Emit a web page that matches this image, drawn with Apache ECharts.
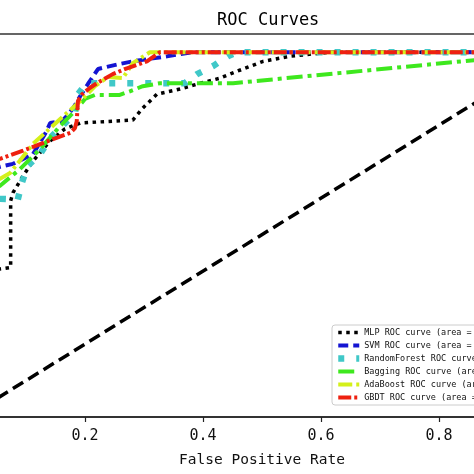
<!DOCTYPE html>
<html>
<head>
<meta charset="utf-8">
<script src="https://cdn.jsdelivr.net/npm/echarts@6/dist/echarts.min.js"></script>
<style>
  html, body { margin: 0; padding: 0; background: #fff; }
  #main { width: 474px; height: 474px; }
</style>
</head>
<body>
<div id="main"></div>
<script>
const xTicks = [0, 0.2, 0.4, 0.6, 0.8, 1.0];

const names = [
  'MLP ROC curve (area = 0.85)',
  'SVM ROC curve (area = 0.91)',
  'RandomForest ROC curve (area = 0.89)',
  'Bagging ROC curve (area = 0.89)',
  'AdaBoost ROC curve (area = 0.90)',
  'GBDT ROC curve (area = 0.91)'
];

// false positive rate / true positive rate
const mlpFpr = [0, 0.03, 0.074, 0.074, 0.078, 0.095, 0.112, 0.141, 0.166, 0.192, 0.281, 0.298, 0.322, 0.361, 0.395, 0.429, 0.458, 0.502, 0.547, 0.615, 1];
const mlpTpr = [0, 0.40, 0.410, 0.593, 0.615, 0.661, 0.702, 0.757, 0.790, 0.806, 0.814, 0.847, 0.885, 0.899, 0.915, 0.929, 0.948, 0.975, 0.989, 1, 1];

const svmFpr = [0, 0.02, 0.056, 0.078, 0.112, 0.134, 0.141, 0.161, 0.169, 0.180, 0.192, 0.205, 0.222, 0.256, 0.281, 0.339, 0.383, 1];
const svmTpr = [0, 0.66, 0.686, 0.694, 0.721, 0.781, 0.806, 0.811, 0.825, 0.847, 0.880, 0.913, 0.954, 0.967, 0.975, 0.989, 1, 1];

const rfFpr = [0, 0.02, 0.056, 0.086, 0.093, 0.103, 0.124, 0.141, 0.183, 0.188, 0.203, 0.369, 0.390, 0.417, 0.442, 0.458, 1];
const rfTpr = [0, 0.58, 0.598, 0.596, 0.642, 0.689, 0.721, 0.765, 0.833, 0.885, 0.915, 0.915, 0.940, 0.962, 0.989, 1, 1];

const bagFpr = [0, 0.02, 0.056, 0.090, 0.124, 0.158, 0.183, 0.200, 0.217, 0.259, 0.276, 0.298, 0.327, 0.451, 1];
const bagTpr = [0, 0.60, 0.634, 0.680, 0.735, 0.798, 0.839, 0.872, 0.883, 0.883, 0.893, 0.907, 0.915, 0.915, 1];

const adaFpr = [0, 0.02, 0.056, 0.073, 0.112, 0.158, 0.192, 0.217, 0.239, 0.264, 0.281, 0.310, 1];
const adaTpr = [0, 0.62, 0.653, 0.669, 0.749, 0.817, 0.866, 0.907, 0.932, 0.929, 0.970, 1, 1];

const gbdtFpr = [0, 0.02, 0.056, 0.095, 0.146, 0.175, 0.183, 0.186, 0.188, 0.195, 0.208, 0.220, 0.247, 0.271, 0.305, 0.327, 1];
const gbdtTpr = [0, 0.69, 0.708, 0.730, 0.762, 0.779, 0.792, 0.811, 0.866, 0.885, 0.902, 0.915, 0.940, 0.956, 0.975, 1, 1];

const chanceFpr = [0, 1];
const chanceTpr = [0, 1];

function pairs(xs, ys) {
  return xs.map((x, i) => [x, ys[i]]);
}

const FONT = '"DejaVu Sans Mono", "Liberation Mono", monospace';

const chart = echarts.init(document.getElementById('main'), null, { renderer: 'canvas' });

function curve(name, xs, ys, color, width, type) {
  return {
    name: name,
    type: 'line',
    data: pairs(xs, ys),
    symbol: 'none',
    clip: true,
    lineStyle: { color: color, width: width, type: type, cap: 'butt' },
    itemStyle: { color: color },
    emphasis: { disabled: true }
  };
}

const option = {
  animation: false,
  title: {
    text: 'ROC Curves',
    left: 212,
    top: 7,
    textStyle: { fontFamily: FONT, fontSize: 17, fontWeight: 'normal', color: '#000' }
  },
  grid: {
    left: -33,
    top: 34,
    width: 590,
    height: 383,
    outerBoundsMode: 'none',
    containLabel: false,
    show: true,
    borderColor: '#333',
    borderWidth: 1.5,
    backgroundColor: 'transparent'
  },
  legend: {
    orient: 'vertical',
    left: 332,
    top: 325,
    padding: [3, 4, 3, 3],
    itemWidth: 21,
    itemHeight: 10,
    itemGap: 4,
    backgroundColor: '#fff',
    borderColor: '#ccc',
    borderWidth: 1,
    borderRadius: 3,
    itemStyle: { opacity: 0 },
    lineStyle: { width: 'inherit' },
    textStyle: { fontFamily: FONT, fontSize: 8.5, color: '#111' },
    data: names
  },
  xAxis: {
    type: 'value',
    min: 0,
    max: 1,
    interval: 0.2,
    name: 'False Positive Rate',
    nameLocation: 'middle',
    nameGap: 36,
    nameTextStyle: { fontFamily: FONT, fontSize: 14.5, color: '#111' },
    axisLine: { lineStyle: { color: '#222', width: 1.5 } },
    axisTick: { show: true, length: 5, lineStyle: { color: '#222', width: 1.2 } },
    axisLabel: { fontFamily: FONT, fontSize: 15, color: '#111', margin: 12 },
    splitLine: { show: false }
  },
  yAxis: {
    type: 'value',
    min: 0,
    max: 1.05,
    axisLine: { show: false },
    axisTick: { show: false },
    axisLabel: { show: false },
    splitLine: { show: false }
  },
  series: [
    curve('chance', chanceFpr, chanceTpr, '#000', 3.5, [12, 6]),
    curve(names[0], mlpFpr, mlpTpr, '#000', 3.5, [3.5, 4.5]),
    curve(names[1], svmFpr, svmTpr, '#1414d2', 4, [10, 5]),
    curve(names[2], rfFpr, rfTpr, '#40c8c8', 6.5, [6, 12]),
    curve(names[3], bagFpr, bagTpr, '#3ee81e', 4, [16, 5, 4, 5]),
    curve(names[4], adaFpr, adaTpr, '#d4f01a', 4, [14, 4, 3, 4]),
    curve(names[5], gbdtFpr, gbdtTpr, '#ee2010', 4, [13, 3, 3, 3])
  ]
};

chart.setOption(option);
</script>
</body>
</html>
